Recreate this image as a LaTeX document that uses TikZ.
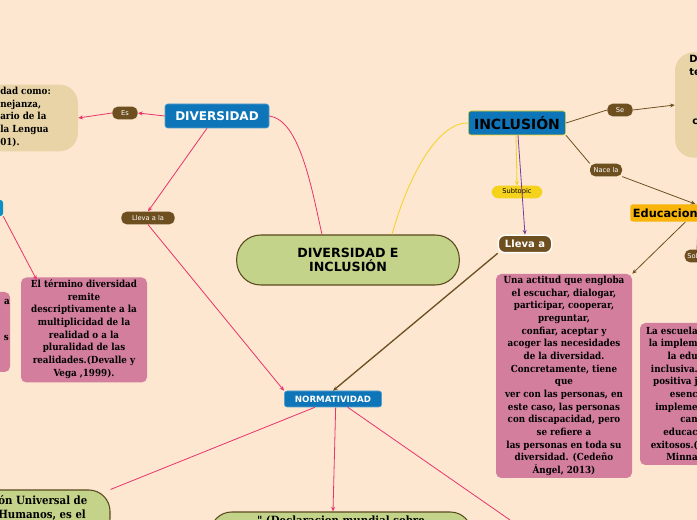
\documentclass[tikz,border=0pt]{standalone}
\usepackage{fontspec}
\setmainfont{DejaVu Sans}
\newfontfamily\slab{DejaVu Serif Condensed}
\usetikzlibrary{arrows.meta}
\definecolor{bg}{HTML}{FDE7D1}
\definecolor{pinkb}{HTML}{D27E9C}
\definecolor{beig}{HTML}{E8D4A6}
\definecolor{grn}{HTML}{C4D38A}
\definecolor{grnb}{HTML}{5A4A1E}
\definecolor{blu}{HTML}{0E76B8}
\definecolor{brn}{HTML}{6E5020}
\definecolor{yel}{HTML}{F5D21C}
\definecolor{org}{HTML}{F9B409}
\definecolor{edg}{HTML}{E8336B}
\definecolor{pur}{HTML}{7A3AA0}
\tikzset{
 pinkbox/.style={fill=pinkb,rounded corners=4pt,draw=none},
 beigebox/.style={fill=beig,rounded corners=14pt,draw=none},
 greenbox/.style={fill=grn,draw=grnb,line width=0.8pt,rounded corners=16pt},
 bluebox/.style={fill=blu,draw=blu!70!white,rounded corners=2pt,font=\bfseries},
 lab/.style={fill=brn,text=white,rounded corners=4pt,font=\fontsize{5}{6}\selectfont,inner sep=2pt,minimum height=9.5pt},
 stxt/.style={font=\slab\bfseries\fontsize{7.3}{9.5}\selectfont,align=center,inner sep=0pt},
 pe/.style={draw=edg,line width=0.6pt},
 be/.style={draw=brn,line width=0.6pt},
 tip/.style={-{Stealth[length=3.5pt,width=3pt]}}
}
\begin{document}
\begin{tikzpicture}[x=0.75pt,y=-0.75pt]
\fill[bg] (0,0) rectangle (697,520);
\useasboundingbox (0,0) rectangle (697,520);
\clip (0,0) rectangle (697,520);
% boxes
\node[beigebox,minimum width=102pt,minimum height=50pt] (bL) at (10,118) {};
\node[stxt,anchor=west,align=left] (bLt) at (0,117) {dad como:\\nejanza,\\ario de la\\la Lengua\\01).};
\node[beigebox,minimum width=90pt,minimum height=79pt] (bR) at (735,105) {};
\node[font=\bfseries\fontsize{7.5}{9.5}\selectfont,anchor=north west,align=left,inner sep=0pt] (bRt) at (689,55) {D\\te};
\node[font=\bfseries\fontsize{7.5}{9.5}\selectfont,anchor=west,inner sep=0pt] (bRt2) at (692,122) {c};
\node[pinkbox,minimum width=94.5pt,minimum height=78.75pt] (pT) at (84,330) {};
\node[stxt] (pTt) at (84,329) {El término diversidad\\remite\\descriptivamente a la\\multiplicidad de la\\realidad o a la\\pluralidad de las\\realidades.(Devalle y\\Vega ,1999).};
\node[pinkbox,minimum width=60pt,minimum height=60pt] (pL) at (-30,332) {};
\node[stxt,anchor=east] at (10,302) {a};
\node[stxt,anchor=east] at (9,338) {s};
\node[pinkbox,minimum width=102pt,minimum height=153pt] (p1) at (564,376) {};
\node[stxt] (p1t) at (564,376) {Una actitud que engloba\\el escuchar, dialogar,\\participar, cooperar,\\preguntar,\\confiar, aceptar y\\acoger las necesidades\\de la diversidad.\\Concretamente, tiene\\que\\ver con las personas, en\\este caso, las personas\\con discapacidad, pero\\se refiere a\\las personas en toda su\\diversidad. (Cedeño\\Ángel, 2013)};
\node[pinkbox,minimum width=120pt,minimum height=106.5pt] (p2) at (720,394) {};
\node[stxt,anchor=east,align=right] (p2t) at (698,394) {La escuela\\la implem\\la edu\\inclusiva.\\positiva j\\esenc\\impleme\\can\\educac\\exitosos.(\\Minna};
\node[greenbox,minimum width=167pt,minimum height=37.5pt,rounded corners=18pt] (cen) at (348,260) {};
\node[font=\bfseries\fontsize{9.5}{11}\selectfont,align=center] (cent) at (348,260) {DIVERSIDAD E\\INCLUSIÓN};
\node[greenbox,minimum width=135pt,minimum height=37.5pt] (gL) at (20,515) {};
\node[stxt,anchor=west,align=left,font=\slab\bfseries\fontsize{8.5}{11}\selectfont] at (-2,508) {ón Universal de\\ Humanos, es el};
\node[greenbox,minimum width=196pt,minimum height=30pt] (gB) at (341,532) {};
\node[stxt,font=\slab\bfseries\fontsize{8.5}{11}\selectfont] at (341,521) {" (Declaracion mundial sobre};
% blue nodes
\node[bluebox,text=white,font=\bfseries\fontsize{9}{10}\selectfont,minimum width=78pt,minimum height=18pt] (div) at (217,116) {DIVERSIDAD};
\node[bluebox,text=black,font=\bfseries\fontsize{10.5}{12}\selectfont,minimum width=73pt,minimum height=18pt,draw=yel] (inc) at (517,123) {INCLUSIÓN};
\node[bluebox,text=white,font=\bfseries\fontsize{6.5}{8}\selectfont,minimum width=73pt,minimum height=12pt,inner sep=1pt] (nor) at (333,399) {NORMATIVIDAD};
\node[fill=blu!80!cyan,rounded corners=2pt,minimum width=15pt,minimum height=12pt] (bS) at (-7,208) {};
\node[fill=org,font=\bfseries\fontsize{8.5}{10}\selectfont,rounded corners=2pt,minimum height=13pt,inner sep=2pt,anchor=west] (edu) at (630,213) {Educacion inclusiva};
% labels
\node[lab,minimum width=19pt] (es) at (125,113) {Es};
\node[lab,minimum width=40pt] (ll1) at (148,218) {Lleva a la};
\node[lab,minimum width=19pt] (se) at (620,110) {Se};
\node[lab,minimum width=24pt] (nace) at (606,170) {Nace la};
\node[lab,minimum width=18pt] (so) at (697,256) {Sobre};
\node[lab,fill=yel,text=black,minimum width=38pt,rounded corners=5pt] (sub) at (517,192) {Subtopic};
\node[lab,draw=white,line width=1pt,font=\bfseries\fontsize{7.5}{9}\selectfont,minimum width=40pt,minimum height=13pt,rounded corners=5pt] (lla) at (525,244) {Lleva a};
% connectors
\draw[pe,tip] (div.west) -- (es.east);
\draw[pe,tip] (es.west) -- (bL.east);
\draw[pe,tip] (div.south) ++(-10,0) coordinate (d1) (d1) -- (ll1.north);
\draw[pe,tip] (ll1.south) -- (nor.north west);
\draw[pe] (div.east) .. controls (300,120) and (312,190) .. ([xshift=-19.5pt]cen.north);
\draw[draw=yel,line width=0.6pt] ([xshift=33pt]cen.north) .. controls (410,170) and (440,122) .. (inc.west);
\draw[draw=yel,line width=0.6pt,tip] ([xshift=-0.75pt]inc.south) -- (sub.north);
\draw[draw=pur,line width=0.6pt,tip] ([xshift=0.75pt]inc.south) -- (lla.north);
\draw[draw=brn,line width=1pt,tip] (lla.south west) -- (nor.north);
\draw[be] (inc.east) -- (se.west);
\draw[be,tip] (se.east) -- (bR.west);
\draw[be] (inc.south east) -- (nace.north west);
\draw[be,tip] (nace.south east) -- (edu.north);
\draw[be,tip] ([xshift=-7.5pt]edu.south) -- (p1.north east);
\draw[be] ([xshift=2pt]edu.south) -- (so.north);
\draw[be] (so.south) -- (p2.north west -| so.south);
\draw[pe,tip] (bS.south east) -- ([xshift=12pt,yshift=-2pt]pT.north west);
\draw[pe] ([xshift=-13.5pt]nor.south) -- (gL.north east);
\draw[pe,tip] ([xshift=2pt]nor.south) -- (gB.north -| nor.south);
\draw[pe] ([xshift=11pt]nor.south) -- (510,520);
\end{tikzpicture}
\end{document}
